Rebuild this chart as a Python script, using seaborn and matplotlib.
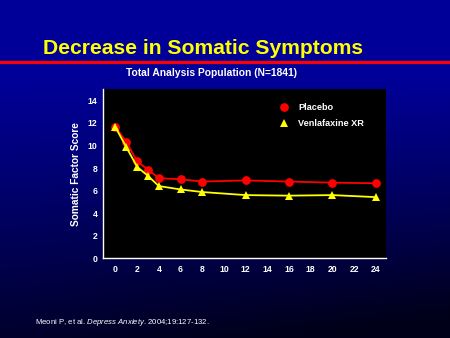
import numpy as np
import pandas as pd
import matplotlib
matplotlib.use("Agg")
import matplotlib.pyplot as plt
from matplotlib.lines import Line2D
import seaborn as sns

# Somatic factor score by study week
weeks = [0, 1, 2, 3, 4, 6, 8, 12, 16, 20, 24]
placebo = [11.65, 10.3, 8.6, 7.85, 7.1, 7.0, 6.8, 6.9, 6.8, 6.7, 6.65]
venlafaxine = [11.6, 9.85, 8.1, 7.3, 6.4, 6.1, 5.87, 5.6, 5.55, 5.6, 5.42]
group_names = ["Placebo", "Venlafaxine XR"]
group_colors = ["#ff0000", "#ffff00"]
group_markers = ["o", "^"]
x_ticks = list(range(0, 25, 2))
y_ticks = list(range(0, 15, 2))

df = pd.DataFrame({
    "Week": weeks * 2,
    "Score": placebo + venlafaxine,
    "Group": [group_names[0]] * len(weeks) + [group_names[1]] * len(weeks),
})

sns.set_theme(style="dark")
plt.rcParams["font.family"] = ["Liberation Sans", "DejaVu Sans"]
plt.rcParams["font.weight"] = "bold"
plt.rcParams["mathtext.fontset"] = "custom"
plt.rcParams["mathtext.rm"] = "Liberation Sans:normal"
plt.rcParams["mathtext.it"] = "Liberation Sans:italic:normal"

fig = plt.figure(figsize=(4.5, 3.38), dpi=100)

# slide background: blue fading to dark navy
bg = fig.add_axes([0, 0, 1, 1], zorder=-10)
yy = np.linspace(0, 1, 338)[:, None]
xx = np.linspace(0, 1, 450)[None, :]
t = np.clip((yy - 0.22) / 0.78, 0, 1) ** 1.1
t = np.clip(t * (0.85 + 0.25 * xx), 0, 1)
blue = 0.60 * (1 - t) + 0.10 * t
img = np.dstack([np.zeros_like(blue), np.zeros_like(blue), blue])
bg.imshow(img, aspect="auto", extent=[0, 1, 0, 1], origin="upper")
bg.set_axis_off()

# title and red rule
fig.text(0.096, 0.84, "Decrease in Somatic Symptoms", color="#ffff00",
         fontsize=15.2, fontweight="bold", ha="left", va="baseline")
fig.add_artist(Line2D([0, 1], [1 - 61.5 / 338] * 2, color="#ff0000", lw=2.3,
                      transform=fig.transFigure))
fig.text(0.471, 1 - 72.5 / 338, "Total Analysis Population (N=1841)",
         color="white", fontsize=7.4, fontweight="bold", ha="center", va="center")

ax = fig.add_axes([103 / 450, 1 - 258.3 / 338, 283 / 450, 169.3 / 338])
ax.set_facecolor("black")

sns.lineplot(data=df, x="Week", y="Score", hue="Group", style="Group",
             palette=group_colors, markers=group_markers, dashes=False,
             markersize=6.3, markeredgewidth=0, linewidth=1.3, ax=ax,
             legend=False)

ax.set_xlim(-1.15, 24.95)
ax.set_ylim(0, 15)
ax.set_xticks(x_ticks)
ax.set_yticks(y_ticks)
ax.set_xticks(range(0, 25), minor=True)
ax.grid(False)
for side in ["top", "right"]:
    ax.spines[side].set_visible(False)
for side in ["left", "bottom"]:
    ax.spines[side].set_visible(True)
    ax.spines[side].set_color("white")
    ax.spines[side].set_linewidth(1.0)
ax.tick_params(axis="both", which="both", colors="white", direction="out",
               length=2, width=0.8, labelsize=6.2)
ax.tick_params(axis="y", pad=2)
ax.tick_params(axis="x", pad=2.5)
ax.tick_params(axis="x", which="minor", length=1.5)
for lab in ax.get_xticklabels() + ax.get_yticklabels():
    lab.set_fontweight("bold")
ax.set_xlabel("")
ax.set_ylabel("Somatic Factor Score", color="white", fontsize=7.3,
              fontweight="bold", labelpad=5)

# legend entries
handles = [Line2D([], [], color=c, marker=m, linestyle="none", markersize=6.3,
                  markeredgewidth=0) for c, m in zip(group_colors, group_markers)]
leg = ax.legend(handles, group_names, loc="upper left",
                bbox_to_anchor=(0.595, 0.965), frameon=False,
                labelcolor="white", prop={"size": 6.6, "weight": "bold"},
                handlelength=1.0, handletextpad=1.0, labelspacing=0.75)

# citation
fig.text(0.078, 1 - 322.5 / 338,
         r"Meoni P, et al. $\it{Depress\ Anxiety}$. 2004;19:127-132.",
         color="white", fontsize=5.6, fontweight="normal",
         ha="left", va="center")

fig.savefig("out.png", dpi=100)
